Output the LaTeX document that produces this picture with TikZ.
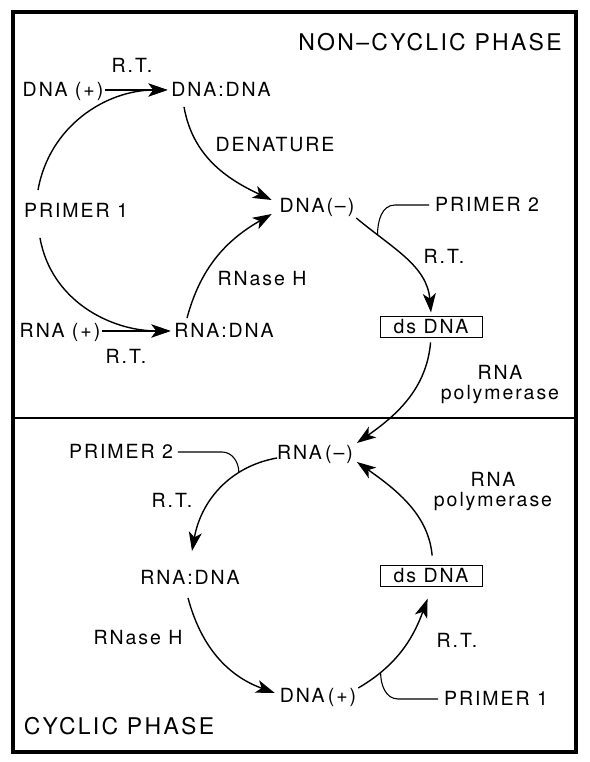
\documentclass[tikz,border=0pt]{standalone}
\usepackage{fontspec}
\setmainfont{TeX Gyre Heros}[LetterSpace=10]
\usetikzlibrary{arrows.meta}

\begin{document}
\begin{tikzpicture}[x=1pt,y=1pt,
  lbl/.style={inner sep=0pt,outer sep=0pt,text height=13.8pt,text depth=0pt,font=\fontsize{19.5}{22}\selectfont},
  phase/.style={inner sep=0pt,text height=16.5pt,text depth=0pt,font=\fontsize{23}{26}\selectfont},
  dsbox/.style={lbl,draw,line width=0.9pt,minimum width=102pt,minimum height=21pt},
  pol/.style={inner sep=0pt,align=center,font=\fontsize{19.5}{20}\selectfont},
  arr/.style={line width=1.4pt,-{Stealth[length=19pt,width=13pt,inset=5pt]}},
  hook/.style={line width=1.1pt}]
\useasboundingbox (0,0) rectangle (589,762);
% frame and phase divider
\draw[line width=3.5pt] (13,10) rectangle (576,750);
\draw[line width=1.5pt] (13,344) -- (576,344);

% non-cyclic phase
\node[phase] (noncyc) at (430,720) {NON–CYCLIC PHASE};
\node[lbl] (rt1) at (132,696) {R.T.};
\node[lbl] (dnap) at (63,672) {DNA (+)};
\node[lbl] (dnadna) at (221,672) {DNA:DNA};
\node[lbl] (denat) at (275,617) {DENATURE};
\node[lbl] (primA) at (76,551) {PRIMER 1};
\node[lbl] (dnam) at (317,556) {DNA(–)};
\node[lbl] (primB) at (487,557) {PRIMER 2};
\node[lbl] (rt2) at (444,505) {R.T.};
\node[lbl] (rnaseA) at (262,483) {RNase H};
\node[lbl] (rnap) at (60,431) {RNA (+)};
\node[lbl] (rnadna) at (224,431) {RNA:DNA};
\node[lbl] (rt3) at (126,405) {R.T.};
\node[dsbox] (dsA) at (431,435) {ds DNA};
\node[pol] (polA) at (500,377) {RNA\\polymerase};

% cyclic phase
\node[lbl] (rnam) at (315,309) {RNA\,(–)};
\node[lbl] (primC) at (121,310) {PRIMER 2};
\node[lbl] (rt4) at (172,261) {R.T.};
\node[pol] (polB) at (493,270) {RNA\\polymerase};
\node[lbl] (rnadnaB) at (190,184) {RNA:DNA};
\node[dsbox] (dsB) at (431,186) {ds DNA};
\node[lbl] (rnaseB) at (138,124) {RNase H};
\node[lbl] (rt5) at (457,121) {R.T.};
\node[lbl] (dnapB) at (318,66) {DNA\,(+)};
\node[lbl] (primD) at (496,63) {PRIMER 1};
\node[phase] (cyc) at (119,36) {CYCLIC PHASE};

% connectors, upper part
\draw[arr,shorten <=2pt,shorten >=4pt] (dnap) -- (dnadna);
\draw[arr,shorten >=4pt] ([xshift=-38pt,yshift=14pt]primA.north) to[out=80,in=180] (dnadna.west);
\draw[arr,shorten <=2pt,shorten >=4pt] (rnap) -- (rnadna);
\draw[arr,shorten >=4pt] ([xshift=-36pt,yshift=-20pt]primA.south) to[out=-80,in=180] (rnadna.west);
\draw[arr] ([xshift=-37pt,yshift=-10pt]dnadna.south) to[out=-80,in=155] ([xshift=-8pt,yshift=6pt]dnam.west);
\draw[arr] ([xshift=-37pt,yshift=6pt]rnadna.north) to[out=75,in=210] ([xshift=-8pt,yshift=-8pt]dnam.west);
\draw[arr] ([xshift=2pt,yshift=-12pt]dnam.east) to[out=-40,in=95] coordinate[pos=0.2] (jB) ([yshift=4pt]dsA.north);
\draw[hook] ([xshift=-6pt]primB.west) -- ++(-34,0) to[out=180,in=90] (jB);
\draw[arr,shorten <=5pt] (dsA.south) to[out=-95,in=35] ([xshift=4pt,yshift=10pt]rnam.east);

% connectors, lower part
\draw[arr] ([yshift=-5pt]rnam.west) to[out=190,in=80] coordinate[pos=0.3] (jC) ([xshift=2pt,yshift=20pt]rnadnaB.north);
\draw[hook] ([xshift=5pt]primC.east) -- ++(44,0) to[out=0,in=90] (jC);
\draw[arr,shorten <=10pt] ([xshift=2pt]dsB.north) to[out=95,in=-35] ([xshift=4pt,yshift=-9pt]rnam.east);
\draw[arr] ([xshift=-2pt,yshift=-13pt]rnadnaB.south) to[out=-75,in=160] ([xshift=-5pt,yshift=3pt]dnapB.west);
\draw[arr,shorten >=13pt] ([xshift=2pt,yshift=8pt]dnapB.east) to[out=30,in=-110] coordinate[pos=0.2] (jD) ([xshift=1pt]dsB.south);
\draw[hook] ([xshift=-6pt]primD.west) -- ++(-40,0) to[out=180,in=-90] (jD);
\end{tikzpicture}
\end{document}
